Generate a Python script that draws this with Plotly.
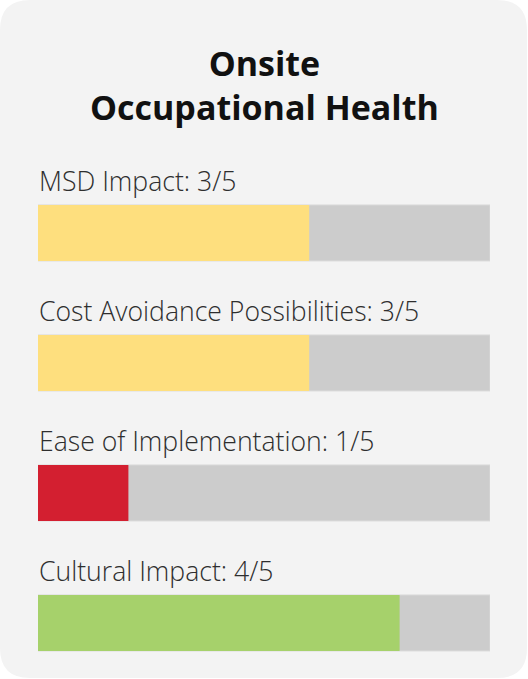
import plotly.graph_objects as go

# Data
categories = ['MSD Impact', 'Cost Avoidance Possibilities', 'Ease of Implementation', 'Cultural Impact']
scores = [3, 3, 1, 4]
max_score = [5, 5, 5, 5]
bar_colors = ['#FEDF7E', '#FEDF7E', '#D31F30', '#A6D16B']
labels = [f"{c}: {s}/{m}" for c, s, m in zip(categories, scores, max_score)]
title_lines = ['Onsite', 'Occupational Health']

# Plot area in pixels (used to place the card shape)
W, H = 528, 679
L, R, T, B = 38, 38, 150, 9
pw, ph = W - L - R, H - T - B


def px(x):
    return (x - L) / pw


def py(y):
    return (H - B - y) / ph


fig = go.Figure()

# background (full) bars
fig.add_trace(go.Bar(x=max_score, y=categories, orientation='h', width=0.43,
                     marker=dict(color='#CCCCCC', line=dict(color='#D8D8D8', width=1)),
                     hoverinfo='skip', showlegend=False))
# score bars
fig.add_trace(go.Bar(x=scores, y=categories, orientation='h', width=0.43,
                     marker=dict(color=bar_colors, line=dict(width=0)),
                     showlegend=False))

# rounded card behind everything
r = 30
x0, x1, y0, y1 = 0, W - 1, 0, H - 1
path = (f"M {px(x0 + r)},{py(y0)} L {px(x1 - r)},{py(y0)} "
        f"Q {px(x1)},{py(y0)} {px(x1)},{py(y0 + r)} "
        f"L {px(x1)},{py(y1 - r)} Q {px(x1)},{py(y1)} {px(x1 - r)},{py(y1)} "
        f"L {px(x0 + r)},{py(y1)} Q {px(x0)},{py(y1)} {px(x0)},{py(y1 - r)} "
        f"L {px(x0)},{py(y0 + r)} Q {px(x0)},{py(y0)} {px(x0 + r)},{py(y0)} Z")
fig.add_shape(type='path', path=path, xref='paper', yref='paper',
              fillcolor='#F3F3F3', line=dict(width=0), layer='below')

# labels above each bar
for cat, lab in zip(categories, labels):
    fig.add_annotation(x=0, y=cat, xref='x', yref='y', text=lab, showarrow=False,
                       xanchor='left', yanchor='middle', yshift=52, xshift=-1,
                       font=dict(family='Open Sans', size=26.6, color='#2E2E2E', weight=300))

# title
fig.add_annotation(x=0.5, y=1, xref='paper', yref='paper',
                   text='<br>'.join(f'<b>{t}</b>' for t in title_lines),
                   showarrow=False, xanchor='center', yanchor='middle', yshift=65.5,
                   font=dict(family='Open Sans', size=34, color='#111111'))

fig.update_layout(
    width=W, height=H,
    margin=dict(l=L, r=R, t=T, b=B),
    paper_bgcolor='#FFFFFF',
    plot_bgcolor='rgba(0,0,0,0)',
    barmode='overlay',
    xaxis=dict(range=[0, 5], visible=False, fixedrange=True),
    yaxis=dict(range=[3.362, -0.638], visible=False, fixedrange=True),
)

fig.write_html("out.html", config={'displayModeBar': False},
               post_script="document.body.style.margin='0';")
